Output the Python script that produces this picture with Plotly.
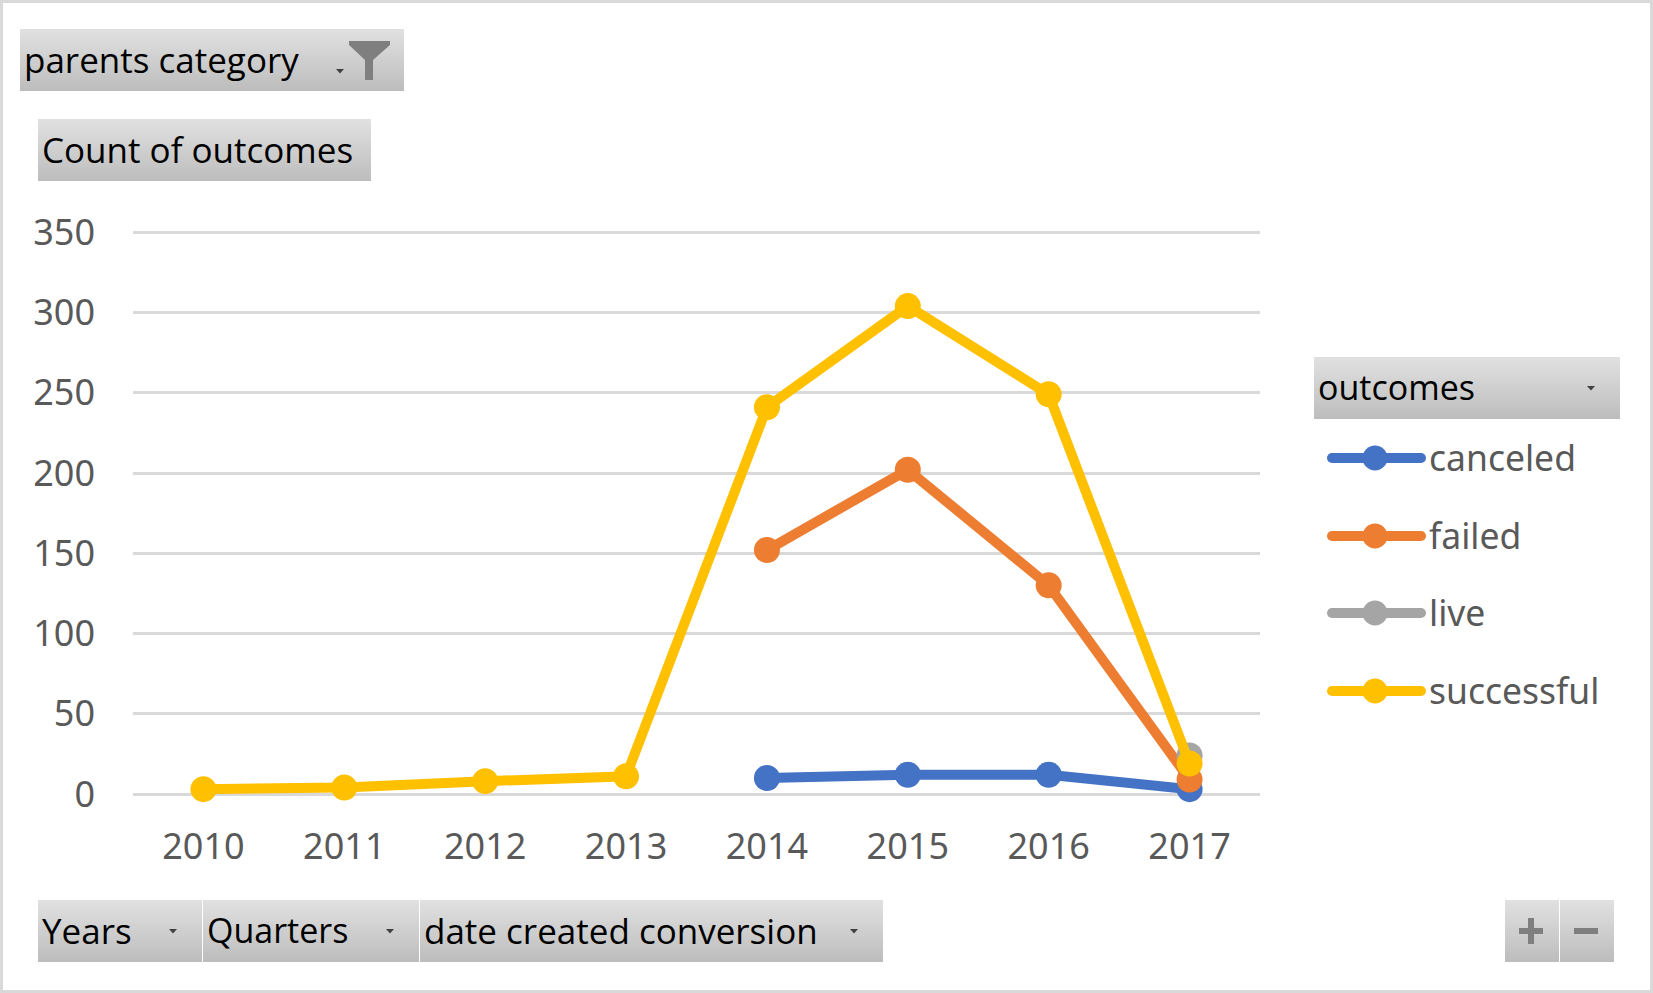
import plotly.graph_objects as go

YEARS = ["2010", "2011", "2012", "2013", "2014", "2015", "2016", "2017"]
CANCELED = [None, None, None, None, 10, 12, 12, 3]
FAILED = [None, None, None, None, 152, 202, 130, 9]
LIVE = [None, None, None, None, None, None, None, 24]
SUCCESSFUL = [3, 4, 8, 11, 241, 304, 249, 19]

NAMES = ["canceled", "failed", "live", "successful"]
VALUES = [CANCELED, FAILED, LIVE, SUCCESSFUL]
COLORS = ["#4472C4", "#ED7D31", "#A5A5A5", "#FFC000"]
Y_TICKS = [0, 50, 100, 150, 200, 250, 300, 350]

W, H = 1653, 993
L, R, T, B = 133, 1260, 230, 794
Y_MAX = 351.4
BTN_FONT = "Open Sans"
AXIS_FONT = "Noto Sans"


def px(x):
    return (x - L) / (R - L)


def py(y):
    return (B - y) / (B - T)


shapes, annotations = [], []


def rect(x0, y0, x1, y1, color):
    shapes.append(dict(type="rect", xref="paper", yref="paper", layer="below",
                       x0=px(x0), x1=px(x1), y0=py(y0), y1=py(y1),
                       fillcolor=color, line_width=0))


def poly(points, color):
    path = "M" + " L".join(f"{px(a):.5f},{py(b):.5f}" for a, b in points) + " Z"
    shapes.append(dict(type="path", xref="paper", yref="paper", path=path,
                       fillcolor=color, line_width=0))


def circle(cx, cy, d, color):
    shapes.append(dict(type="circle", xref="paper", yref="paper",
                       x0=px(cx - d / 2), x1=px(cx + d / 2),
                       y0=py(cy - d / 2), y1=py(cy + d / 2),
                       fillcolor=color, line_width=0))


def text(x, y, s, color, size, family, anchor="left"):
    annotations.append(dict(xref="paper", yref="paper", x=px(x), y=py(y), text=s,
                            showarrow=False, xanchor=anchor, yanchor="middle",
                            borderpad=0, font=dict(color=color, size=size, family=family)))


def button(x0, y0, x1, y1):
    step = 3
    n = (y1 - y0) // step
    for i in range(n + 1):
        t = i / max(n, 1)
        v = round(224 - (224 - 189) * t)
        top = y0 + i * step
        bottom = min(top + step, y1)
        if bottom > top:
            rect(x0, top, x1, bottom, f"rgb({v},{v},{v})")


def arrow(cx, cy):
    poly([(cx - 4, cy - 2), (cx + 4, cy - 2), (cx, cy + 2.5)], "#404040")


# outer frame
rect(0, 0, W, 3, "#D9D9D9")
rect(0, H - 3, W, H, "#D9D9D9")
rect(0, 0, 3, H, "#D9D9D9")
rect(W - 3, 0, W, H, "#D9D9D9")

# field buttons
for (x0, y0, x1, y1, label, ax, size) in [
    (20, 29, 404, 91, "parents category", 340, 35),
    (38, 119, 371, 181, "Count of outcomes", None, 35),
    (1314, 357, 1620, 419, "outcomes", 1591, 34),
    (38, 900, 202, 962, "Years", 173, 35),
    (203, 900, 419, 962, "Quarters", 390, 34),
    (420, 900, 883, 962, "date created conversion", 854, 35),
]:
    button(x0, y0, x1, y1)
    text(x0 + 3, (y0 + y1) / 2 - 1, label, "#000000", size, BTN_FONT)
    if ax is not None:
        arrow(ax, (y0 + y1) / 2 + (11 if label == "parents category" else 0))

# funnel icon
poly([(349, 41), (390, 41), (390, 45), (373, 60), (373, 80), (365, 80), (365, 60), (349, 45)], "#7F7F7F")

# zoom buttons
button(1505, 900, 1559, 962)
button(1560, 900, 1614, 962)
rect(1519, 928, 1543, 934, "#7F7F7F")
rect(1528, 918, 1534, 944, "#7F7F7F")
rect(1574, 928, 1598, 934, "#7F7F7F")

# legend keys
for i, (name, color) in enumerate(zip(NAMES, COLORS)):
    y = [458, 536, 613, 691][i]
    rect(1332, y - 5, 1421, y + 5, color)
    circle(1332, y, 10, color)
    circle(1421, y, 10, color)
    circle(1375, y, 25, color)
    text(1428, y - 1, name, "#595959", 35.5, AXIS_FONT)

fig = go.Figure()
for name, vals, color in zip(NAMES, VALUES, COLORS):
    fig.add_trace(go.Scatter(x=YEARS, y=vals, name=name, mode="lines+markers",
                             line=dict(color=color, width=10),
                             marker=dict(color=color, size=26),
                             cliponaxis=False, showlegend=False))

fig.update_layout(
    width=W, height=H, margin=dict(l=L, r=W - R, t=T, b=H - B),
    paper_bgcolor="white", plot_bgcolor="white", shapes=shapes, annotations=annotations,
    showlegend=False,
    xaxis=dict(type="category", range=[-0.5, 7.5], showgrid=False, zeroline=False,
               showline=False, ticks="", ticklabelstandoff=28,
               tickfont=dict(size=36, color="#595959", family=AXIS_FONT)),
    yaxis=dict(range=[0, Y_MAX], tickvals=Y_TICKS, gridcolor="#D9D9D9", gridwidth=3,
               zeroline=True, zerolinecolor="#D9D9D9", zerolinewidth=3,
               showline=False, ticks="", ticklabelstandoff=37,
               tickfont=dict(size=36, color="#595959", family=AXIS_FONT)),
)
fig.write_html("out.html", config=dict(displayModeBar=False),
               post_script="document.body.style.margin='0';document.body.style.overflow='hidden';")
